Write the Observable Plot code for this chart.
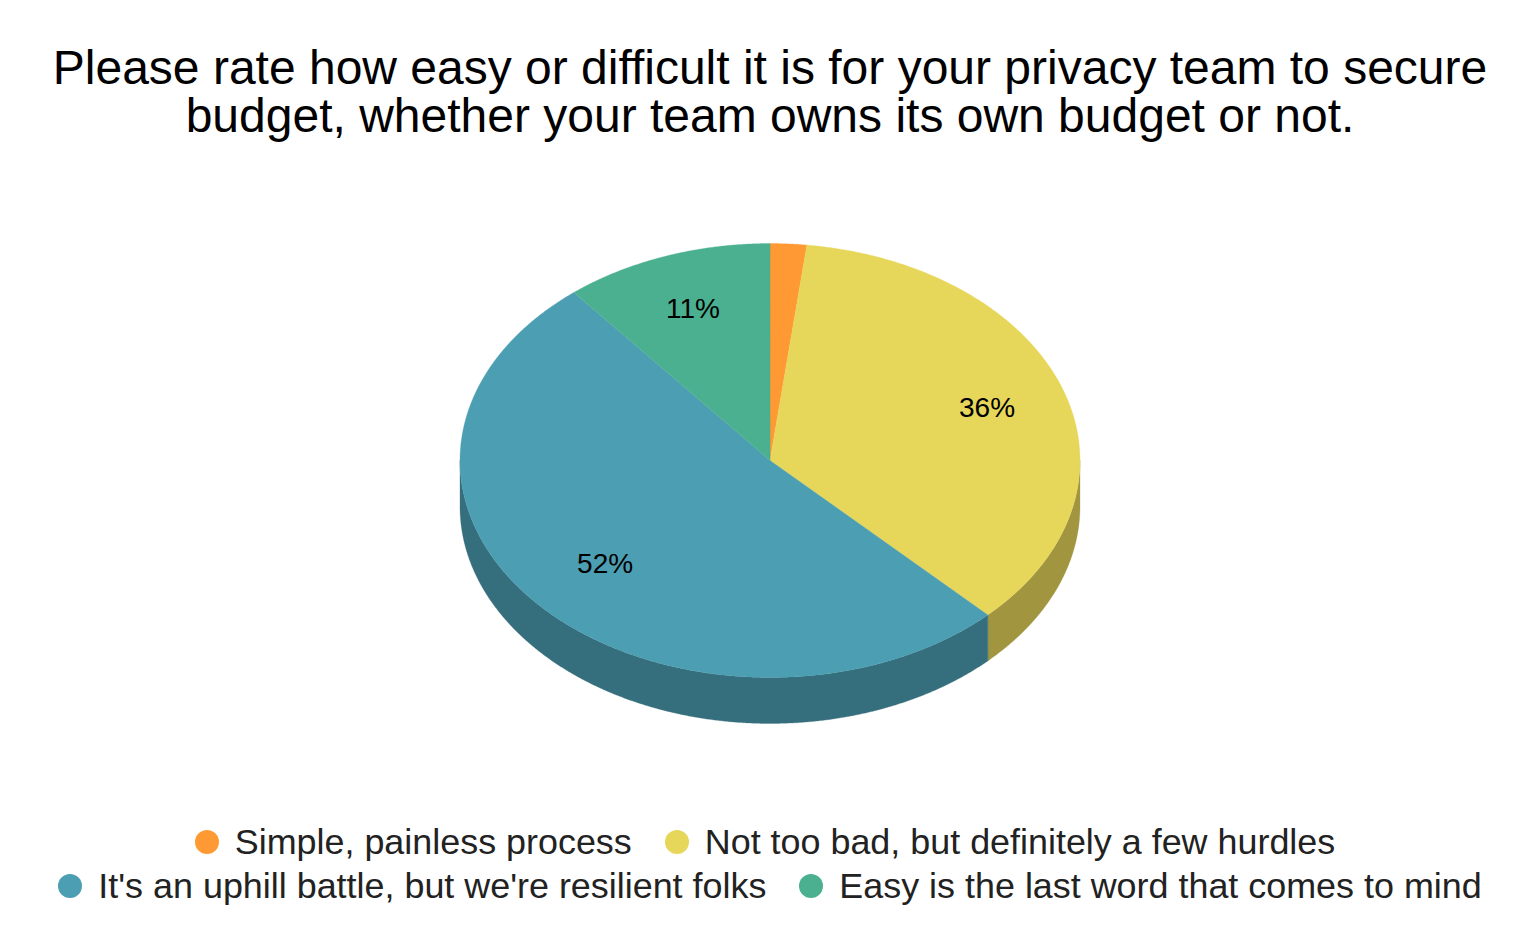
<!DOCTYPE html>
<html>
<head>
<meta charset="utf-8">
<script src="https://cdn.jsdelivr.net/npm/d3@7"></script>
<script src="https://cdn.jsdelivr.net/npm/@observablehq/plot@0.6"></script>
<style>
html,body{margin:0;padding:0;background:#fff;}
body{width:1540px;height:948px;overflow:hidden;font-family:"Liberation Sans",Arial,sans-serif;color:#000;}
#title{height:170px;box-sizing:border-box;padding-top:44px;text-align:center;font-size:48px;line-height:48px;}
#chart svg{display:block;}
#legend{font-size:35.9px;line-height:44px;margin-top:30px;color:#222;}
.row{display:flex;justify-content:center;gap:33px;white-space:nowrap;}
.row.first{transform:translateX(-5px);}
.item{display:flex;align-items:center;gap:16px;}
.dot{width:24px;height:24px;border-radius:50%;display:inline-block;}
</style>
</head>
<body>
<div id="title">Please rate how easy or difficult it is for your privacy team to secure<br>budget, whether your team owns its own budget or not.</div>
<div id="chart"></div>
<div id="legend"></div>
<script>
const categories = ["Simple, painless process","Not too bad, but definitely a few hurdles","It's an uphill battle, but we're resilient folks","Easy is the last word that comes to mind"];
const shares = [1.9, 35.7, 51.5, 10.9];
const labels = ["", "36%", "52%", "11%"];
const labelRadius = [0, 0.74, 0.715, 0.74];
const topColors = ["#FF9933","#E6D75A","#4C9EB2","#4AB08F"];
const sideColors = ["#B26B24","#A1963F","#356E7C","#347B64"];
const legendRows = [[0,1],[2,3]];

const W = 1540, H = 620, cx = 769.5, cy = 290, rx = 310, ry = 217, depth = 46 / 217;
const total = d3.sum(shares);
const cum = d3.cumsum(shares);
const slices = categories.map((c,i)=>({c,i,start:(i?cum[i-1]:0)/total*2*Math.PI,end:cum[i]/total*2*Math.PI}));
const px = (a,r=1)=>Math.sin(a)*r, py=(a,r=1)=>Math.cos(a)*r;
const arc = (a0,a1)=>{const n=Math.max(2,Math.ceil(Math.abs(a1-a0)/0.005));return d3.range(n+1).map(k=>a0+(a1-a0)*k/n);};

const topPts = slices.flatMap(s=>[{x:0,y:0,k:s.i},...arc(s.start,s.end).map(a=>({x:px(a),y:py(a),k:s.i}))]);
const sidePts = slices.flatMap(s=>{
  const a0=Math.max(s.start,Math.PI/2), a1=Math.min(s.end,3*Math.PI/2);
  if(a1<=a0) return [];
  const as=arc(a0,a1);
  return [...as.map(a=>({x:px(a),y:py(a),k:s.i})),...as.slice().reverse().map(a=>({x:px(a),y:py(a)-depth,k:s.i}))];
});
const labelPts = slices.filter(s=>labels[s.i]).map(s=>{const m=(s.start+s.end)/2,r=labelRadius[s.i];return {x:px(m,r),y:py(m,r),t:labels[s.i]};});

const plot = Plot.plot({
  width:W,height:H,margin:0,
  x:{axis:null,domain:[-cx/rx,(W-cx)/rx]},
  y:{axis:null,domain:[-(H-cy)/ry,cy/ry]},
  marks:[
    Plot.line(sidePts,{x:"x",y:"y",z:"k",fill:d=>sideColors[d.k],stroke:d=>sideColors[d.k],strokeWidth:0.3,curve:"linear-closed"}),
    Plot.line(topPts,{x:"x",y:"y",z:"k",fill:d=>topColors[d.k],stroke:d=>topColors[d.k],strokeWidth:0.3,curve:"linear-closed"}),
    Plot.text(labelPts,{x:"x",y:"y",text:"t",fontSize:28,fill:"#000",fontFamily:"Liberation Sans"})
  ]
});
document.getElementById("chart").append(plot);

const legend = document.getElementById("legend");
legendRows.forEach((row,n)=>{
  const r=document.createElement("div");r.className=n===0?"row first":"row";
  for(const i of row){
    const it=document.createElement("div");it.className="item";
    const d=document.createElement("span");d.className="dot";d.style.background=topColors[i];
    const t=document.createElement("span");t.textContent=categories[i];
    it.append(d,t);r.append(it);
  }
  legend.append(r);
});
</script>
</body>
</html>
